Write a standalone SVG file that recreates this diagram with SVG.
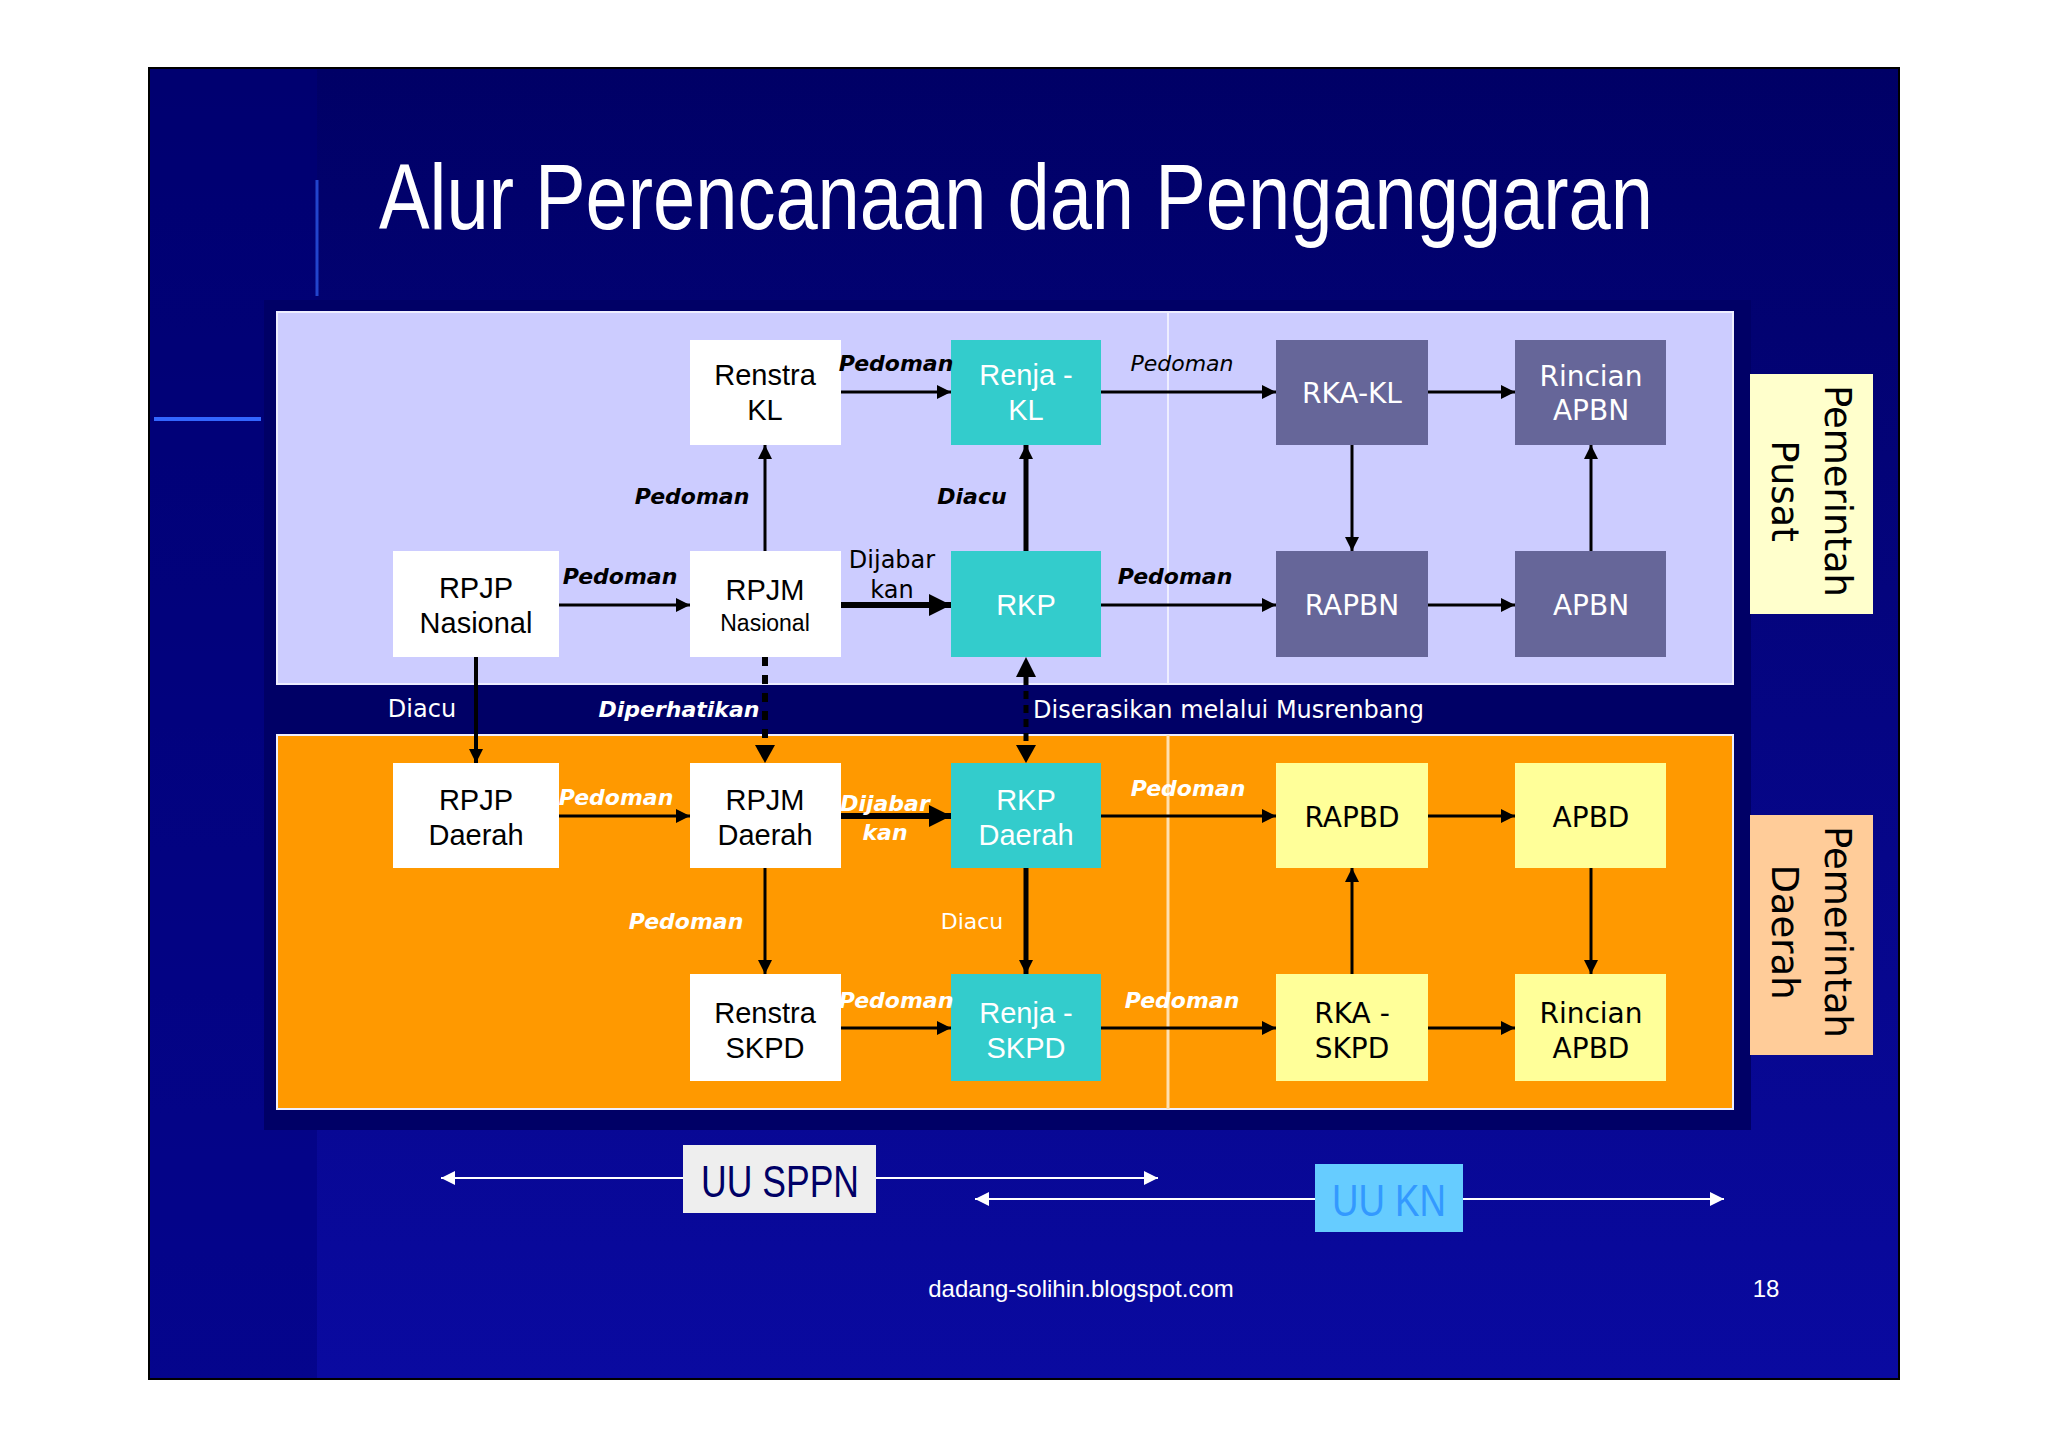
<svg xmlns="http://www.w3.org/2000/svg" width="2048" height="1448" viewBox="0 0 2048 1448">
<defs>
<linearGradient id="bg" x1="0" y1="0" x2="0" y2="1"><stop offset="0" stop-color="#000066"/><stop offset="1" stop-color="#0a0aa0"/></linearGradient>
<marker id="a" viewBox="0 0 10 10" refX="10" refY="5" markerWidth="14" markerHeight="14" orient="auto-start-reverse" markerUnits="userSpaceOnUse"><path d="M0,0 L10,5 L0,10 z" fill="#000"/></marker>
<marker id="ab" viewBox="0 0 10 10" refX="10" refY="5" markerWidth="22" markerHeight="22" orient="auto-start-reverse" markerUnits="userSpaceOnUse"><path d="M0,0 L10,5 L0,10 z" fill="#000"/></marker>
<marker id="aw" viewBox="0 0 10 10" refX="10" refY="5" markerWidth="14" markerHeight="14" orient="auto-start-reverse" markerUnits="userSpaceOnUse"><path d="M0,0 L10,5 L0,10 z" fill="#fff"/></marker>
</defs>
<style>
.bt{font-family:"Liberation Sans",Arial,sans-serif;font-size:29px;text-anchor:middle}
.vt{font-family:"DejaVu Sans",Verdana,sans-serif;font-size:28px;text-anchor:middle;fill:#fff}
.sd{font-family:"DejaVu Sans",Verdana,sans-serif;font-size:37px;text-anchor:middle;fill:#000}
.lb{font-family:"DejaVu Sans",Verdana,sans-serif;font-size:22px;font-weight:bold;font-style:italic;text-anchor:middle}
.ln{font-family:"DejaVu Sans",Verdana,sans-serif;font-size:22px;text-anchor:middle}
.w{fill:#fff}.k{fill:#000}
.c{stroke:#000;stroke-width:3;fill:none;marker-end:url(#a)}
.ct{stroke:#000;stroke-width:6;fill:none;marker-end:url(#ab)}
</style>
<rect width="2048" height="1448" fill="#fff"/>
<rect x="149" y="68" width="1750" height="1311" fill="url(#bg)" stroke="#000" stroke-width="2"/>
<rect x="150" y="69" width="167" height="1309" fill="#00007a" opacity="0.5"/>
<line x1="317" y1="180" x2="317" y2="296" stroke="#2244cc" stroke-width="3"/>
<line x1="154" y1="419" x2="261" y2="419" stroke="#3366ff" stroke-width="4"/>
<text x="1016" y="229" text-anchor="middle" font-family="Liberation Sans,Arial,sans-serif" font-size="92" fill="#fff" textLength="1274" lengthAdjust="spacingAndGlyphs">Alur Perencanaan dan Penganggaran</text>
<rect x="264" y="300" width="1487" height="830" fill="#000066"/>
<rect x="277" y="312" width="1456" height="372" fill="#ccccff" stroke="#eeeeff" stroke-width="2"/>
<rect x="277" y="735" width="1456" height="374" fill="#ff9900" stroke="#eeeeff" stroke-width="2"/>
<line x1="1168" y1="312" x2="1168" y2="684" stroke="#eeeeff" stroke-width="2"/>
<line x1="1168" y1="735" x2="1168" y2="1109" stroke="#ffe0b0" stroke-width="3"/>

<g id="renstra-kl"><rect x="690" y="340" width="151" height="105" fill="#fff"/><text class="bt k" x="765" y="385">Renstra</text><text class="bt k" x="765" y="420">KL</text></g>
<g id="renja-kl"><rect x="951" y="340" width="150" height="105" fill="#33cccc"/><text class="bt w" x="1026" y="385">Renja -</text><text class="bt w" x="1026" y="420">KL</text></g>
<g id="rka-kl"><rect x="1276" y="340" width="152" height="105" fill="#666699"/><text class="vt" x="1352" y="403">RKA-KL</text></g>
<g id="rincian-apbn"><rect x="1515" y="340" width="151" height="105" fill="#666699"/><text class="vt" x="1591" y="386">Rincian</text><text class="vt" x="1591" y="420">APBN</text></g>
<g id="rpjp-nasional"><rect x="393" y="551" width="166" height="106" fill="#fff"/><text class="bt k" x="476" y="598">RPJP</text><text class="bt k" x="476" y="633">Nasional</text></g>
<g id="rpjm-nasional"><rect x="690" y="551" width="151" height="106" fill="#fff"/><text class="bt k" x="765" y="600">RPJM</text><text class="bt k" x="765" y="631" style="font-size:23px">Nasional</text></g>
<g id="rkp"><rect x="951" y="551" width="150" height="106" fill="#33cccc"/><text class="bt w" x="1026" y="615">RKP</text></g>
<g id="rapbn"><rect x="1276" y="551" width="152" height="106" fill="#666699"/><text class="vt" x="1352" y="615">RAPBN</text></g>
<g id="apbn"><rect x="1515" y="551" width="151" height="106" fill="#666699"/><text class="vt" x="1591" y="615">APBN</text></g>

<g id="rpjp-daerah"><rect x="393" y="763" width="166" height="105" fill="#fff"/><text class="bt k" x="476" y="810">RPJP</text><text class="bt k" x="476" y="845">Daerah</text></g>
<g id="rpjm-daerah"><rect x="690" y="763" width="151" height="105" fill="#fff"/><text class="bt k" x="765" y="810">RPJM</text><text class="bt k" x="765" y="845">Daerah</text></g>
<g id="rkp-daerah"><rect x="951" y="763" width="150" height="105" fill="#33cccc"/><text class="bt w" x="1026" y="810">RKP</text><text class="bt w" x="1026" y="845">Daerah</text></g>
<g id="rapbd"><rect x="1276" y="763" width="152" height="105" fill="#ffff99"/><text class="vt" x="1352" y="827" style="fill:#000">RAPBD</text></g>
<g id="apbd"><rect x="1515" y="763" width="151" height="105" fill="#ffff99"/><text class="vt" x="1591" y="827" style="fill:#000">APBD</text></g>
<g id="renstra-skpd"><rect x="690" y="974" width="151" height="107" fill="#fff"/><text class="bt k" x="765" y="1023">Renstra</text><text class="bt k" x="765" y="1058">SKPD</text></g>
<g id="renja-skpd"><rect x="951" y="974" width="150" height="107" fill="#33cccc"/><text class="bt w" x="1026" y="1023">Renja -</text><text class="bt w" x="1026" y="1058">SKPD</text></g>
<g id="rka-skpd"><rect x="1276" y="974" width="152" height="107" fill="#ffff99"/><text class="vt" x="1352" y="1023" style="fill:#000">RKA -</text><text class="vt" x="1352" y="1058" style="fill:#000">SKPD</text></g>
<g id="rincian-apbd"><rect x="1515" y="974" width="151" height="107" fill="#ffff99"/><text class="vt" x="1591" y="1023" style="fill:#000">Rincian</text><text class="vt" x="1591" y="1058" style="fill:#000">APBD</text></g>

<g id="pemerintah-pusat"><rect x="1750" y="374" width="123" height="240" fill="#ffffcc"/><text transform="translate(1825,491) rotate(90)" class="sd">Pemerintah</text><text transform="translate(1772,491) rotate(90)" class="sd">Pusat</text></g>
<g id="pemerintah-daerah"><rect x="1750" y="815" width="123" height="240" fill="#ffcc99"/><text transform="translate(1825,932) rotate(90)" class="sd">Pemerintah</text><text transform="translate(1772,932) rotate(90)" class="sd">Daerah</text></g>

<g id="connectors">
<line class="c" x1="841" y1="392" x2="951" y2="392"/>
<line class="c" x1="1101" y1="392" x2="1276" y2="392"/>
<line class="c" x1="1428" y1="392" x2="1515" y2="392"/>
<line class="c" x1="1352" y1="445" x2="1352" y2="551"/>
<line class="c" x1="1591" y1="551" x2="1591" y2="445"/>
<line class="c" x1="559" y1="605" x2="690" y2="605"/>
<line class="c" x1="765" y1="551" x2="765" y2="445"/>
<line class="ct" x1="841" y1="605" x2="951" y2="605"/>
<line class="c" style="stroke-width:5" x1="1026" y1="551" x2="1026" y2="445"/>
<line class="c" x1="1101" y1="605" x2="1276" y2="605"/>
<line class="c" x1="1428" y1="605" x2="1515" y2="605"/>
<line class="c" style="stroke-width:4" x1="476" y1="657" x2="476" y2="763"/>
<line x1="765" y1="657" x2="765" y2="745" stroke="#000" stroke-width="6" stroke-dasharray="9,9"/>
<path d="M755,745 L775,745 L765,763 z" fill="#000"/>
<line x1="1026" y1="677" x2="1026" y2="745" stroke="#000" stroke-width="5" stroke-dasharray="8,6"/>
<path d="M1016,677 L1036,677 L1026,657 z" fill="#000"/>
<path d="M1016,745 L1036,745 L1026,763 z" fill="#000"/>
<line class="c" x1="559" y1="816" x2="690" y2="816"/>
<line class="ct" x1="841" y1="816" x2="951" y2="816"/>
<line class="c" x1="1101" y1="816" x2="1276" y2="816"/>
<line class="c" x1="1428" y1="816" x2="1515" y2="816"/>
<line class="c" x1="765" y1="868" x2="765" y2="974"/>
<line class="c" style="stroke-width:5" x1="1026" y1="868" x2="1026" y2="974"/>
<line class="c" x1="841" y1="1028" x2="951" y2="1028"/>
<line class="c" x1="1101" y1="1028" x2="1276" y2="1028"/>
<line class="c" x1="1428" y1="1028" x2="1515" y2="1028"/>
<line class="c" x1="1352" y1="974" x2="1352" y2="868"/>
<line class="c" x1="1591" y1="868" x2="1591" y2="974"/>
</g>

<g id="labels">
<text class="lb k" x="896" y="371">Pedoman</text>
<text class="ln k" x="1182" y="371" font-style="italic">Pedoman</text>
<text class="lb k" x="620" y="584">Pedoman</text>
<text class="lb k" x="692" y="504">Pedoman</text>
<text class="ln k" x="892" y="568" style="font-size:24px">Dijabar</text>
<text class="ln k" x="892" y="598" style="font-size:24px">kan</text>
<text class="lb k" x="972" y="504">Diacu</text>
<text class="lb k" x="1175" y="584">Pedoman</text>
<text class="ln w" x="422" y="717" style="font-size:24px">Diacu</text>
<text class="lb w" x="679" y="717">Diperhatikan</text>
<text x="1033" y="718" font-family="DejaVu Sans,Verdana,sans-serif" font-size="24" fill="#fff">Diserasikan melalui Musrenbang</text>
<text class="lb w" x="616" y="805">Pedoman</text>
<text class="lb w" x="885" y="811">Dijabar</text>
<text class="lb w" x="885" y="840">kan</text>
<text class="lb w" x="1188" y="796">Pedoman</text>
<text class="lb w" x="686" y="929">Pedoman</text>
<text class="ln w" x="972" y="929">Diacu</text>
<text class="lb w" x="896" y="1008">Pedoman</text>
<text class="lb w" x="1182" y="1008">Pedoman</text>
</g>

<g id="uu-sppn">
<line x1="441" y1="1178" x2="1158" y2="1178" stroke="#fff" stroke-width="2" marker-start="url(#aw)" marker-end="url(#aw)"/>
<rect x="683" y="1145" width="193" height="68" fill="#eeeeee"/>
<text x="780" y="1197" text-anchor="middle" font-family="Liberation Sans,Arial,sans-serif" font-size="44" fill="#000066" textLength="158" lengthAdjust="spacingAndGlyphs">UU SPPN</text>
</g>
<g id="uu-kn">
<line x1="975" y1="1199" x2="1724" y2="1199" stroke="#fff" stroke-width="2" marker-start="url(#aw)" marker-end="url(#aw)"/>
<rect x="1315" y="1164" width="148" height="68" fill="#66ccff"/>
<text x="1389" y="1216" text-anchor="middle" font-family="Liberation Sans,Arial,sans-serif" font-size="44" fill="#3399ff" textLength="114" lengthAdjust="spacingAndGlyphs">UU KN</text>
</g>
<text x="1081" y="1297" text-anchor="middle" font-family="Liberation Sans,Arial,sans-serif" font-size="24" fill="#fff">dadang-solihin.blogspot.com</text>
<text x="1766" y="1297" text-anchor="middle" font-family="Liberation Sans,Arial,sans-serif" font-size="24" fill="#fff">18</text>
</svg>
